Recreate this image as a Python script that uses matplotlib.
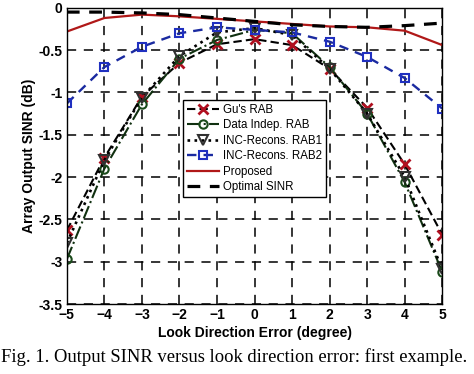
import numpy as np
import matplotlib.pyplot as plt

# look direction error (degree)
err = [-5, -4, -3, -2, -1, 0, 1, 2, 3, 4, 5]

# output SINR (dB) for each method
gu_rab = [-2.63, -1.77, -1.05, -0.65, -0.43, -0.37, -0.44, -0.72, -1.18, -1.85, -2.68]
data_indep = [-2.97, -1.9, -1.14, -0.6, -0.38, -0.26, -0.3, -0.7, -1.25, -2.06, -3.12]
inc_rab1 = [-2.78, -1.8, -1.06, -0.57, -0.29, -0.24, -0.32, -0.72, -1.25, -2.0, -3.09]
inc_rab2 = [-1.13, -0.7, -0.46, -0.3, -0.23, -0.26, -0.29, -0.4, -0.58, -0.83, -1.19]
proposed = [-0.28, -0.12, -0.08, -0.1, -0.13, -0.16, -0.19, -0.22, -0.23, -0.27, -0.44]
optimal = [-0.05, -0.05, -0.06, -0.08, -0.12, -0.16, -0.2, -0.22, -0.23, -0.21, -0.18]

xticks = list(range(-5, 6))
yticks = [0, -0.5, -1, -1.5, -2, -2.5, -3, -3.5]

plt.rcParams['font.family'] = ['Liberation Sans', 'DejaVu Sans']

fig = plt.figure(figsize=(4.74, 3.74), dpi=100)
ax = fig.add_axes([0.141, 0.187, 0.792, 0.792])

# Gu's RAB: black dashed line, red x markers
ax.plot(err, gu_rab, color='black', linestyle=(0, (4, 2)), linewidth=1.5,
        marker='x', markersize=7, markeredgewidth=2, markeredgecolor='#b01020',
        label="Gu's RAB")
ax.plot(err, data_indep, color='#103010', linestyle='-.', linewidth=1.5,
        marker='o', markersize=6, markerfacecolor='none', markeredgewidth=1.5,
        markeredgecolor='#1a4a1a', label='Data Indep. RAB')
ax.plot(err, inc_rab1, color='black', linestyle=':', linewidth=1.9,
        marker='v', markersize=7, markerfacecolor='none', markeredgewidth=1.5,
        markeredgecolor='#303030', label='INC-Recons. RAB1')
ax.plot(err, inc_rab2, color='#1a2aa0', linestyle=(0, (4, 3)), linewidth=1.7,
        marker='s', markersize=6, markerfacecolor='none', markeredgewidth=1.5,
        markeredgecolor='#2030c0', label='INC-Recons. RAB2')
ax.plot(err, proposed, color='#b01818', linewidth=1.6, label='Proposed')
ax.plot(err, optimal, color='black', linestyle=(0, (4, 3)), linewidth=2.3,
        label='Optimal SINR')

ax.set_xlim(-5, 5)
ax.set_ylim(-3.5, 0)
ax.set_xticks(xticks)
ax.set_yticks(yticks)
ax.set_yticklabels(['0', '-0.5', '-1', '-1.5', '-2', '-2.5', '-3', '-3.5'])
ax.tick_params(labelsize=10, length=0, pad=3)
for lab in ax.get_xticklabels() + ax.get_yticklabels():
    lab.set_fontweight('bold')
ax.grid(True, color='black', linestyle=(0, (6, 5)), linewidth=1.1)
for s in ax.spines.values():
    s.set_linewidth(1.0)

ax.set_xlabel('Look Direction Error (degree)', fontsize=10, fontweight='bold', labelpad=3)
ax.set_ylabel('Array Output SINR (dB)', fontsize=10, fontweight='bold', labelpad=2)

leg = ax.legend(loc='center', bbox_to_anchor=(0.5, 0.525), fontsize=8.3,
                frameon=True, fancybox=False, edgecolor='black',
                handlelength=2.8, borderpad=0.35, labelspacing=0.3,
                handletextpad=0.3, framealpha=1)
leg.get_frame().set_linewidth(1.0)

fig.text(0.003, 0.045, 'Fig. 1. Output SINR versus look direction error: first example.',
         fontsize=13.4, family='Liberation Serif', ha='left', va='center')

fig.savefig('out.png', dpi=100)
